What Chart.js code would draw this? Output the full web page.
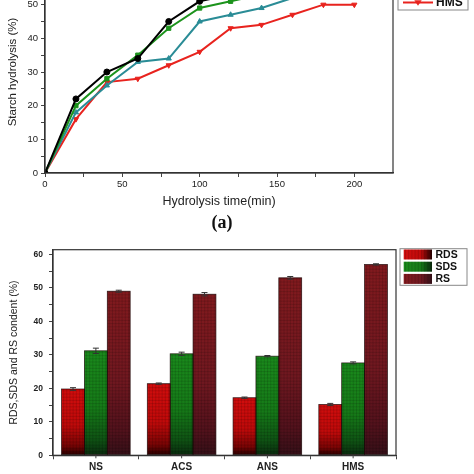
<!DOCTYPE html>
<html><head><meta charset="utf-8">
<script src="https://cdn.jsdelivr.net/npm/chart.js@4.4.1/dist/chart.umd.min.js"></script>
<style>
html,body{margin:0;padding:0;background:#fff;width:474px;height:474px;overflow:hidden;position:relative}
#c1{position:absolute;left:0;top:-40px;width:474px;height:272px}
#c2{position:absolute;left:0;top:232px;width:474px;height:242px}
#lblA{position:absolute;left:190px;width:64px;top:211px;text-align:center;font:bold 18px "Liberation Serif","DejaVu Serif",serif;line-height:22px;color:#111}
</style></head>
<body>
<canvas id="c1" width="474" height="272"></canvas>
<canvas id="c2" width="474" height="242"></canvas>
<div id="lblA">(a)</div>
<script>
// ---- Top chart data (starch hydrolysis vs time) ----
const times = [0,20,40,60,80,100,120,140,160,180,200];
const seriesNames = ['NS','ACS','ANS','HMS'];
const nsHydrolysis  = [0,22,30,34,45,51,53,55,57,58,59];
const acsHydrolysis = [0,20,28,35,43,49,51,53,55,56,57];
const ansHydrolysis = [0,18,26,33,34,45,47,49,52,54,55];
const hmsHydrolysis = [0,16,27,28,32,36,43,44,47,50,50];
const xTicksTop = [0,25,50,75,100,125,150,175,200];
const xLabelsTop = [0,50,100,150,200];
const yTicksTop = [0,5,10,15,20,25,30,35,40,45,50,55,60];
const yLabelsTop = [0,10,20,30,40,50,60];

// ---- Bottom chart data (RDS, SDS, RS content) ----
const categories = ['NS','ACS','ANS','HMS'];
const barSeries = ['RDS','SDS','RS'];
const rdsValues = [19.8,21.4,17.2,15.2];
const sdsValues = [31.2,30.3,29.6,27.6];
const rsValues  = [49.0,48.1,53.0,57.0];
const rdsErr = [0.4,0.2,0.2,0.3];
const sdsErr = [0.8,0.5,0.2,0.3];
const rsErr  = [0.3,0.5,0.4,0.2];
const yTicksBottom = [0,5,10,15,20,25,30,35,40,45,50,55,60];
const yLabelsBottom = [0,10,20,30,40,50,60];

const FONT = '"Liberation Sans", Arial, sans-serif';
Chart.defaults.font.family = FONT;
Chart.defaults.color = '#222';

const frame = {
  id:'frame',
  afterDraw(chart){
    const a = chart.chartArea, c = chart.ctx;
    c.save(); c.strokeStyle = '#333'; c.lineWidth = 1.2;
    c.strokeRect(a.left, a.top, a.right - a.left, a.bottom - a.top);
    c.restore();
  }
};

// ---------------- TOP LINE CHART ----------------
const lineColors = ['#000000','#1c931c','#2a8c96','#e8231e'];
const lineStyles = ['circle','rect','triangle','triangle'];
const lineRot = [0,0,0,180];
const lineData = [nsHydrolysis, acsHydrolysis, ansHydrolysis, hmsHydrolysis];

const topLegend = {
  id:'topLegend',
  afterDraw(chart){
    const c = chart.ctx;
    const x0 = 398, x1 = 468, yb = 50, step = 13;
    const n = chart.data.datasets.length;
    c.save();
    c.fillStyle = '#fff'; c.strokeStyle = '#888'; c.lineWidth = 1;
    c.fillRect(x0, yb - n*step - 2, x1-x0, n*step + 2);
    c.strokeRect(x0, yb - n*step - 2, x1-x0, n*step + 2);
    chart.data.datasets.forEach((ds,i)=>{
      const y = yb - (n - i)*step + step/2 - 1;
      c.strokeStyle = ds.borderColor; c.lineWidth = 2;
      c.beginPath(); c.moveTo(403,y); c.lineTo(433,y); c.stroke();
      c.fillStyle = ds.borderColor;
      const r = 3.2;
      c.beginPath();
      if (ds.pointStyle==='circle'){ c.arc(418,y,r,0,Math.PI*2); }
      else if (ds.pointStyle==='rect'){ c.rect(418-r,y-r,2*r,2*r); }
      else if (ds.pointRotation===180){ c.moveTo(418-r-0.5,y-r+1); c.lineTo(418+r+0.5,y-r+1); c.lineTo(418,y+r); c.closePath(); }
      else { c.moveTo(418-r-0.5,y+r-1); c.lineTo(418+r+0.5,y+r-1); c.lineTo(418,y-r); c.closePath(); }
      c.fill();
      c.fillStyle = '#111'; c.font = 'bold 12px ' + FONT; c.textBaseline = 'middle';
      c.fillText(ds.label, 436, y+0.5);
    });
    c.restore();
  }
};

new Chart(document.getElementById('c1'), {
  type:'line',
  data:{
    datasets: seriesNames.map((name,i)=>({
      label:name,
      data: times.map((t,k)=>({x:t, y:lineData[i][k]})),
      borderColor: lineColors[i],
      backgroundColor: lineColors[i],
      pointBackgroundColor: lineColors[i],
      pointBorderColor: lineColors[i],
      pointStyle: lineStyles[i],
      pointRotation: lineRot[i],
      pointRadius: 3,
      pointBorderWidth: 1,
      borderWidth: 2,
      tension: 0,
      fill:false
    }))
  },
  options:{
    responsive:false, animation:false, devicePixelRatio:1,
    layout:{padding:{top:11,right:81,left:0,bottom:0}},
    plugins:{legend:{display:false}, tooltip:{enabled:false}},
    scales:{
      x:{
        type:'linear', min:0, max:225,
        afterBuildTicks(s){ s.ticks = xTicksTop.map(v=>({value:v})); },
        afterFit(s){ s.height = 59; },
        ticks:{autoSkip:false, maxRotation:0, font:{size:9.5}, color:'#222', padding:2,
          callback:(v)=> xLabelsTop.includes(v) ? String(v) : ''},
        grid:{drawOnChartArea:false, tickLength:4, color:'#444'},
        border:{color:'#333', width:1.2},
        title:{display:true, text:'Hydrolysis time(min)', font:{size:12.5}, color:'#222', padding:{top:2,bottom:23}}
      },
      y:{
        min:0, max:60,
        afterBuildTicks(s){ s.ticks = yTicksTop.map(v=>({value:v})); },
        afterFit(s){ s.width = 45; },
        ticks:{autoSkip:false, font:{size:9.5}, color:'#222', padding:3,
          callback:(v)=> yLabelsTop.includes(v) ? String(v) : ''},
        grid:{drawOnChartArea:false, tickLength:4, color:'#444'},
        border:{color:'#333', width:1.2},
        title:{display:true, text:'Starch hydrolysis (%)', font:{size:11.5}, color:'#222', padding:{top:6,bottom:0}}
      }
    }
  },
  plugins:[frame, topLegend]
});

// ---------------- BOTTOM BAR CHART ----------------
const barStops = [
  [[0,'#d20d0d'],[0.55,'#bf0a0a'],[0.85,'#7a0505'],[1,'#260000']],
  [[0,'#1a8a1c'],[0.55,'#167a18'],[0.85,'#0f5314'],[1,'#0a2a0e']],
  [[0,'#821a1e'],[0.55,'#701820'],[0.85,'#52121c'],[1,'#351018']]
];
const barVals = [rdsValues, sdsValues, rsValues];
const barErrs = [rdsErr, sdsErr, rsErr];

function barGrad(stops){
  return function(ctx){
    const chart = ctx.chart;
    if (!chart.chartArea || ctx.type !== 'data') return stops[0][1];
    const ys = chart.scales.y;
    const v = chart.data.datasets[ctx.datasetIndex].data[ctx.dataIndex];
    const top = ys.getPixelForValue(v), bot = ys.getPixelForValue(0);
    const g = chart.ctx.createLinearGradient(0, top, 0, bot);
    stops.forEach(s=>g.addColorStop(s[0], s[1]));
    return g;
  };
}

const texture = {
  id:'texture',
  afterDatasetsDraw(chart){
    const c = chart.ctx;
    chart.data.datasets.forEach((ds,di)=>{
      chart.getDatasetMeta(di).data.forEach(el=>{
        const l = el.x - el.width/2, r = el.x + el.width/2, t = el.y, b = el.base;
        c.save();
        c.beginPath(); c.rect(l, t, r-l, b-t); c.clip();
        c.strokeStyle = 'rgba(0,0,0,0.16)'; c.lineWidth = 0.8;
        c.beginPath();
        for (let y = b; y > t; y -= 3.2){ c.moveTo(l, y); c.lineTo(r, y); }
        for (let x = l + 2; x < r; x += 3.2){ c.moveTo(x, t); c.lineTo(x, b); }
        c.stroke();
        c.restore();
        c.save(); c.strokeStyle = 'rgba(20,0,0,0.8)'; c.lineWidth = 0.8;
        c.strokeRect(l, t, r-l, b-t); c.restore();
      });
    });
  }
};

const errorBars = {
  id:'errorBars',
  afterDatasetsDraw(chart){
    const c = chart.ctx, ys = chart.scales.y;
    c.save(); c.strokeStyle = '#333'; c.lineWidth = 1;
    chart.data.datasets.forEach((ds,di)=>{
      chart.getDatasetMeta(di).data.forEach((el,i)=>{
        const v = ds.data[i], e = barErrs[di][i];
        const y1 = ys.getPixelForValue(v+e), y2 = ys.getPixelForValue(v-e);
        c.beginPath();
        c.moveTo(el.x, y1); c.lineTo(el.x, y2);
        c.moveTo(el.x-3, y1); c.lineTo(el.x+3, y1);
        c.moveTo(el.x-3, y2); c.lineTo(el.x+3, y2);
        c.stroke();
      });
    });
    c.restore();
  }
};

const centerTicks = {
  id:'centerTicks',
  afterDraw(chart){
    const c = chart.ctx, xs = chart.scales.x, b = chart.chartArea.bottom;
    c.save(); c.strokeStyle = '#444'; c.lineWidth = 1;
    categories.forEach((_,i)=>{
      const x = xs.getPixelForValue(i);
      c.beginPath(); c.moveTo(x, b); c.lineTo(x, b+3); c.stroke();
    });
    c.restore();
  }
};

const bottomLegend = {
  id:'bottomLegend',
  afterDraw(chart){
    const c = chart.ctx;
    const x0 = 400, x1 = 467, y0 = 16.7, y1 = 53.3;
    c.save();
    c.fillStyle = '#fff'; c.fillRect(x0, y0, x1-x0, y1-y0);
    c.strokeStyle = '#888'; c.lineWidth = 1; c.strokeRect(x0, y0, x1-x0, y1-y0);
    chart.data.datasets.forEach((ds,i)=>{
      const yc = 22.5 + i*12.2;
      const g = c.createLinearGradient(403.7, 0, 432, 0);
      const st = barStops[i];
      g.addColorStop(0, st[0][1]); g.addColorStop(0.6, st[1][1]); g.addColorStop(1, st[3][1]);
      c.fillStyle = g;
      c.fillRect(403.7, yc-5, 28.3, 10);
      c.strokeStyle = 'rgba(0,0,0,0.18)'; c.lineWidth = 0.8;
      c.beginPath();
      for (let x = 405.5; x < 432; x += 3.2){ c.moveTo(x, yc-5); c.lineTo(x, yc+5); }
      c.stroke();
      c.fillStyle = '#111'; c.font = 'bold 10.5px ' + FONT; c.textBaseline = 'middle';
      c.fillText(ds.label, 435.5, yc+0.5);
    });
    c.restore();
  }
};

new Chart(document.getElementById('c2'), {
  type:'bar',
  data:{
    labels: categories,
    datasets: barSeries.map((name,i)=>({
      label:name,
      data: barVals[i],
      backgroundColor: barGrad(barStops[i]),
      borderWidth: 0,
      barPercentage: 1,
      categoryPercentage: 0.8
    }))
  },
  options:{
    responsive:false, animation:false, devicePixelRatio:1,
    layout:{padding:{top:17.7,right:78,left:0,bottom:0}},
    plugins:{legend:{display:false}, tooltip:{enabled:false}},
    scales:{
      x:{
        afterFit(s){ s.height = 18.7; },
        ticks:{font:{size:10, weight:'bold'}, color:'#222', padding:2, maxRotation:0},
        grid:{drawOnChartArea:false, offset:true, tickLength:4, color:'#444'},
        border:{color:'#333', width:1.2}
      },
      y:{
        min:0, max:61.4,
        afterBuildTicks(s){ s.ticks = yTicksBottom.map(v=>({value:v})); },
        afterFit(s){ s.width = 53; },
        ticks:{autoSkip:false, font:{size:8.5, weight:'bold'}, color:'#222', padding:6,
          callback:(v)=> yLabelsBottom.includes(v) ? String(v) : ''},
        grid:{drawOnChartArea:false, tickLength:4, color:'#444'},
        border:{color:'#333', width:1.2},
        title:{display:true, text:'RDS,SDS and RS condent (%)', font:{size:10.5}, color:'#222', padding:{top:8,bottom:0}}
      }
    }
  },
  plugins:[frame, texture, errorBars, centerTicks, bottomLegend]
});
</script>
</body></html>
